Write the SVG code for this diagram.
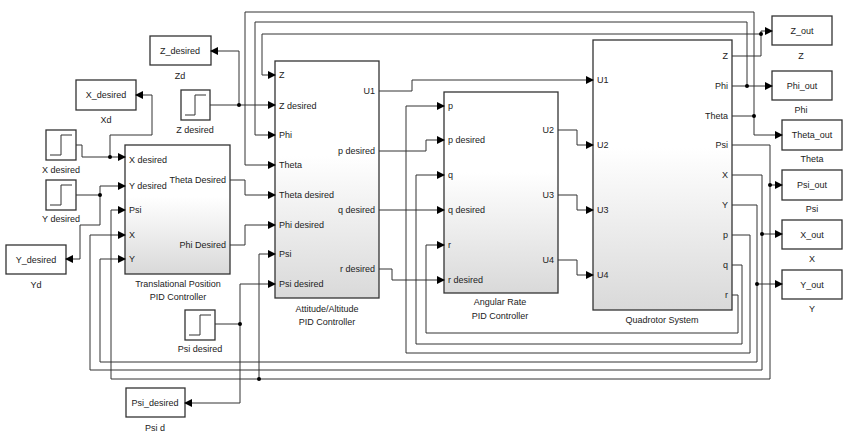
<svg xmlns="http://www.w3.org/2000/svg" width="848" height="436" viewBox="0 0 848 436">
<defs>
<marker id="a" markerWidth="8" markerHeight="8" refX="7" refY="4" orient="auto" markerUnits="userSpaceOnUse"><path d="M0,0 L8,4 L0,8 Z" fill="#000"/></marker>
<linearGradient id="g" x1="0" y1="0" x2="0" y2="1"><stop offset="0.4" stop-color="#fff"/><stop offset="1" stop-color="#d9d9d9"/></linearGradient>
</defs>
<style>
.b{fill:#fff;stroke:#333;stroke-width:1.3}
.s{fill:url(#g);stroke:#333;stroke-width:1.3}
text{font-family:"Liberation Sans",Arial,sans-serif;font-size:9px;fill:#222}
.c{text-anchor:middle}.r{text-anchor:end}
.w path{fill:none;stroke:#333;stroke-width:1}
.w .m{marker-end:url(#a)}
.st{fill:none;stroke:#333;stroke-width:1}
</style>
<rect width="848" height="436" fill="#fff"/>
<g id="zd"><rect class="b" x="150" y="36" width="61" height="29"/><text x="180" y="54" class="c">Z_desired</text><text x="180" y="79" class="c">Zd</text></g>
<g id="xd"><rect class="b" x="76" y="80" width="60" height="30"/><text x="106" y="98" class="c">X_desired</text><text x="106" y="123" class="c">Xd</text></g>
<g id="yd"><rect class="b" x="6" y="245" width="60" height="29"/><text x="36" y="263" class="c">Y_desired</text><text x="36" y="288" class="c">Yd</text></g>
<g id="psid"><rect class="b" x="126" y="388" width="59" height="29"/><text x="155" y="406" class="c">Psi_desired</text><text x="155" y="431" class="c">Psi d</text></g>
<g id="stepx"><rect class="b" x="46" y="130" width="30" height="30"/><path class="st" d="M50,155 H61 V135 H72"/><text x="61" y="173" class="c">X desired</text></g>
<g id="stepy"><rect class="b" x="46" y="180" width="30" height="30"/><path class="st" d="M50,205 H61 V185 H72"/><text x="61" y="222" class="c">Y desired</text></g>
<g id="stepz"><rect class="b" x="181" y="90" width="29" height="30"/><path class="st" d="M185,115 H195 V95 H206"/><text x="195" y="133" class="c">Z desired</text></g>
<g id="steppsi"><rect class="b" x="185" y="310" width="30" height="30"/><path class="st" d="M189,335 H200 V315 H211"/><text x="200" y="352" class="c">Psi desired</text></g>
<g id="trans"><rect class="s" x="125" y="145" width="105" height="129"/>
<text x="129" y="163">X desired</text><text x="129" y="189">Y desired</text><text x="129" y="213">Psi</text><text x="129" y="238">X</text><text x="129" y="262">Y</text>
<text x="226" y="183" class="r">Theta Desired</text><text x="226" y="248" class="r">Phi Desired</text>
<text x="178" y="287" class="c">Translational Position</text><text x="178" y="300" class="c">PID Controller</text></g>
<g id="att"><rect class="s" x="275" y="61" width="104" height="237"/>
<text x="279" y="78">Z</text><text x="279" y="109">Z desired</text><text x="279" y="138">Phi</text><text x="279" y="168">Theta</text><text x="279" y="198">Theta desired</text><text x="279" y="228">Phi desired</text><text x="279" y="257">Psi</text><text x="279" y="287">Psi desired</text>
<text x="375" y="94" class="r">U1</text><text x="375" y="154" class="r">p desired</text><text x="375" y="213" class="r">q desired</text><text x="375" y="272" class="r">r desired</text>
<text x="327" y="312" class="c">Attitude/Altitude</text><text x="327" y="325" class="c">PID Controller</text></g>
<g id="rate"><rect class="s" x="444" y="92" width="114" height="201"/>
<text x="448" y="109">p</text><text x="448" y="143">p desired</text><text x="448" y="178">q</text><text x="448" y="213">q desired</text><text x="448" y="248">r</text><text x="448" y="283">r desired</text>
<text x="554" y="133" class="r">U2</text><text x="554" y="198" class="r">U3</text><text x="554" y="263" class="r">U4</text>
<text x="500" y="305" class="c">Angular Rate</text><text x="500" y="319" class="c">PID Controller</text></g>
<g id="quad"><rect class="s" x="593" y="40" width="139" height="270"/>
<text x="597" y="83">U1</text><text x="597" y="148">U2</text><text x="597" y="213">U3</text><text x="597" y="278">U4</text>
<text x="728" y="59" class="r">Z</text><text x="728" y="89" class="r">Phi</text><text x="728" y="119" class="r">Theta</text><text x="728" y="148" class="r">Psi</text><text x="728" y="178" class="r">X</text><text x="728" y="208" class="r">Y</text><text x="728" y="238" class="r">p</text><text x="728" y="268" class="r">q</text><text x="728" y="298" class="r">r</text>
<text x="662" y="323" class="c">Quadrotor System</text></g>
<g id="zout"><rect class="b" x="772" y="16" width="60" height="29"/><text x="802" y="34" class="c">Z_out</text><text x="801" y="59" class="c">Z</text></g>
<g id="phiout"><rect class="b" x="772" y="71" width="60" height="29"/><text x="802" y="89" class="c">Phi_out</text><text x="801" y="113" class="c">Phi</text></g>
<g id="thetaout"><rect class="b" x="782" y="120" width="60" height="30"/><text x="812" y="138" class="c">Theta_out</text><text x="812" y="162" class="c">Theta</text></g>
<g id="psiout"><rect class="b" x="782" y="170" width="60" height="30"/><text x="812" y="188" class="c">Psi_out</text><text x="812" y="212" class="c">Psi</text></g>
<g id="xout"><rect class="b" x="782" y="220" width="60" height="29"/><text x="812" y="238" class="c">X_out</text><text x="812" y="262" class="c">X</text></g>
<g id="yout"><rect class="b" x="782" y="270" width="60" height="29"/><text x="812" y="288" class="c">Y_out</text><text x="812" y="312" class="c">Y</text></g>
<g id="connectors" class="w">
<path class="m" d="M732,56 H761 V31 H772"/>
<path class="m" d="M761,34 H262 V75 H275"/>
<path class="m" d="M732,86 H772"/>
<path class="m" d="M747,86 V22 H255 V135 H275"/>
<path d="M732,116 H754"/>
<path class="m" d="M754,116 V12 H245 V165 H275"/>
<path class="m" d="M754,116 V135 H782"/>
<path class="m" d="M732,145 H770 V379 H111 V210 H125"/>
<path class="m" d="M770,185 H782"/>
<path class="m" d="M259,379 V254 H275"/>
<path class="m" d="M732,175 H762 V370 H90 V235 H125"/>
<path class="m" d="M762,234 H782"/>
<path class="m" d="M732,205 H757 V362 H100 V259 H125"/>
<path class="m" d="M757,284 H782"/>
<path class="m" d="M732,235 H750 V353 H406 V106 H444"/>
<path class="m" d="M732,265 H742 V344 H416 V175 H444"/>
<path class="m" d="M732,295 H738 V333 H426 V245 H444"/>
<path class="m" d="M379,91 H412 V80 H593"/>
<path class="m" d="M379,151 H426 V140 H444"/>
<path class="m" d="M379,210 H444"/>
<path class="m" d="M379,269 H392 V280 H444"/>
<path class="m" d="M558,130 H577 V145 H593"/>
<path class="m" d="M558,195 H577 V210 H593"/>
<path class="m" d="M558,260 H577 V275 H593"/>
<path class="m" d="M230,180 H245 V195 H275"/>
<path class="m" d="M230,245 H245 V225 H275"/>
<path class="m" d="M210,105 H275"/>
<path class="m" d="M239,105 V51 H211"/>
<path class="m" d="M76,145 H82 V157 H125"/>
<path class="m" d="M110,157 V135 H152 V95 H136"/>
<path d="M76,195 H100"/>
<path class="m" d="M100,195 V186 H125"/>
<path class="m" d="M100,195 V225 H80 V259 H66"/>
<path class="m" d="M215,324 H240 V284 H275"/>
<path class="m" d="M240,324 V403 H185"/>
</g>
<g id="dots" fill="#000">
<circle cx="761" cy="34" r="2"/><circle cx="747" cy="86" r="2"/><circle cx="754" cy="116" r="2"/><circle cx="770" cy="185" r="2"/><circle cx="762" cy="234" r="2"/><circle cx="757" cy="284" r="2"/><circle cx="259" cy="379" r="2"/><circle cx="239" cy="105" r="2"/><circle cx="110" cy="157" r="2"/><circle cx="100" cy="195" r="2"/><circle cx="240" cy="324" r="2"/>
</g>
</svg>
